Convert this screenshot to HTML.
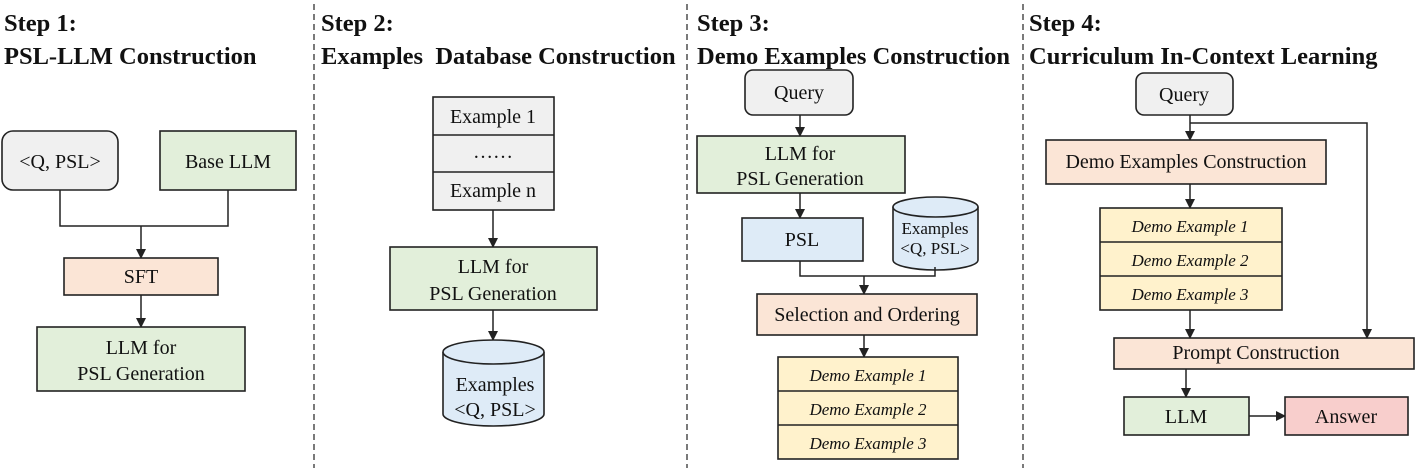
<!DOCTYPE html>
<html><head><meta charset="utf-8"><style>
html,body{margin:0;padding:0;background:#fff;}
svg{display:block;font-family:"Liberation Serif","Times New Roman","DejaVu Serif",serif;}
svg text{font-family:"Liberation Serif","Times New Roman","DejaVu Serif",serif;fill:#111;}
.t{font-size:24.5px;font-weight:bold;}
.n{font-size:20px;text-anchor:middle;}
.i{font-size:17px;font-style:italic;text-anchor:middle;}
.b{stroke:#222;stroke-width:1.6;}
.l{stroke:#222;stroke-width:1.5;fill:none;}
</style></head><body>
<svg width="1419" height="471" viewBox="0 0 1419 471" xmlns="http://www.w3.org/2000/svg" font-family="Liberation Serif, serif">
<defs><marker id="a" markerWidth="10" markerHeight="10" refX="9" refY="5" orient="auto" markerUnits="userSpaceOnUse"><path d="M0,0 L10,5 L0,10 z" fill="#222"/></marker></defs>
<g stroke="#333" stroke-width="1.3" stroke-dasharray="6,4">
<line x1="314" y1="4" x2="314" y2="468"/><line x1="687" y1="4" x2="687" y2="468"/><line x1="1023" y1="4" x2="1023" y2="468"/>
</g>
<text class="t" x="4" y="31">Step 1:</text><text class="t" x="4" y="64">PSL-LLM Construction</text>
<text class="t" x="321" y="31">Step 2:</text><text class="t" x="321" y="64">Examples&#160; Database Construction</text>
<text class="t" x="697" y="31">Step 3:</text><text class="t" x="697" y="64">Demo Examples Construction</text>
<text class="t" x="1029" y="31">Step 4:</text><text class="t" x="1029" y="64">Curriculum In-Context Learning</text>

<rect class="b" x="2" y="131" width="116" height="59" rx="11" fill="#f0f0f0"/>
<text class="n" x="60" y="168">&lt;Q, PSL&gt;</text>
<rect class="b" x="160" y="131" width="136" height="59" fill="#e2efda"/>
<text class="n" x="228" y="168">Base LLM</text>
<path class="l" d="M60,190 V226 H228 V190"/>
<line class="l" x1="141" y1="226" x2="141" y2="258" marker-end="url(#a)"/>
<rect class="b" x="64" y="258" width="154" height="37" fill="#fbe5d6"/>
<text class="n" x="141" y="283">SFT</text>
<line class="l" x1="141" y1="295" x2="141" y2="327" marker-end="url(#a)"/>
<rect class="b" x="37" y="327" width="208" height="64" fill="#e2efda"/>
<text class="n" x="141" y="354">LLM for</text><text class="n" x="141" y="380">PSL Generation</text>

<rect class="b" x="433" y="97" width="121" height="113" fill="#f0f0f0"/>
<line class="b" x1="433" y1="135" x2="554" y2="135"/><line class="b" x1="433" y1="172" x2="554" y2="172"/>
<text class="n" x="493" y="123">Example 1</text>
<text class="n" x="493" y="158">……</text>
<text class="n" x="493" y="197">Example n</text>
<line class="l" x1="493" y1="210" x2="493" y2="247" marker-end="url(#a)"/>
<rect class="b" x="390" y="247" width="207" height="63" fill="#e2efda"/>
<text class="n" x="493" y="273">LLM for</text><text class="n" x="493" y="300">PSL Generation</text>
<line class="l" x1="493" y1="310" x2="493" y2="340" marker-end="url(#a)"/>
<path class="b" d="M443,352 V414 A50.5,12 0 0 0 544,414 V352" fill="#deebf7"/>
<ellipse class="b" cx="493.5" cy="352" rx="50.5" ry="12" fill="#deebf7"/>
<text class="n" x="495" y="391">Examples</text><text class="n" x="495" y="416">&lt;Q, PSL&gt;</text>

<rect class="b" x="745" y="70" width="108" height="45" rx="8" fill="#f0f0f0"/>
<text class="n" x="799" y="99">Query</text>
<line class="l" x1="800" y1="115" x2="800" y2="136" marker-end="url(#a)"/>
<rect class="b" x="697" y="136" width="208" height="57" fill="#e2efda"/>
<text class="n" x="800" y="160">LLM for</text><text class="n" x="800" y="185">PSL Generation</text>
<line class="l" x1="800" y1="193" x2="800" y2="218" marker-end="url(#a)"/>
<rect class="b" x="742" y="218" width="121" height="43" fill="#deebf7"/>
<text class="n" x="802" y="246">PSL</text>
<path class="b" d="M893,207 V260 A42.5,10 0 0 0 978,260 V207" fill="#deebf7"/>
<ellipse class="b" cx="935.5" cy="207" rx="42.5" ry="10" fill="#deebf7"/>
<text x="935" y="234" style="font-size:17px;text-anchor:middle">Examples</text>
<text x="935" y="254" style="font-size:17px;text-anchor:middle">&lt;Q, PSL&gt;</text>
<path class="l" d="M800,261 V276 H935 V267"/>
<line class="l" x1="864" y1="276" x2="864" y2="294" marker-end="url(#a)"/>
<rect class="b" x="757" y="294" width="220" height="41" fill="#fbe5d6"/>
<text class="n" x="867" y="321">Selection and Ordering</text>
<line class="l" x1="864" y1="335" x2="864" y2="357" marker-end="url(#a)"/>
<rect class="b" x="778" y="357" width="180" height="102" fill="#fff2cc"/>
<line class="b" x1="778" y1="391" x2="958" y2="391"/><line class="b" x1="778" y1="425" x2="958" y2="425"/>
<text class="i" x="868" y="381">Demo Example 1</text>
<text class="i" x="868" y="415">Demo Example 2</text>
<text class="i" x="868" y="449">Demo Example 3</text>

<rect class="b" x="1136" y="73" width="97" height="42" rx="8" fill="#f0f0f0"/>
<text class="n" x="1184" y="101">Query</text>
<line class="l" x1="1190" y1="115" x2="1190" y2="140" marker-end="url(#a)"/>
<path class="l" d="M1190,123 H1367 V338" marker-end="url(#a)"/>
<rect class="b" x="1046" y="140" width="280" height="44" fill="#fbe5d6"/>
<text class="n" x="1186" y="168">Demo Examples Construction</text>
<line class="l" x1="1190" y1="184" x2="1190" y2="208" marker-end="url(#a)"/>
<rect class="b" x="1100" y="208" width="182" height="102" fill="#fff2cc"/>
<line class="b" x1="1100" y1="242" x2="1282" y2="242"/><line class="b" x1="1100" y1="276" x2="1282" y2="276"/>
<text class="i" x="1190" y="232">Demo Example 1</text>
<text class="i" x="1190" y="266">Demo Example 2</text>
<text class="i" x="1190" y="300">Demo Example 3</text>
<line class="l" x1="1190" y1="310" x2="1190" y2="338" marker-end="url(#a)"/>
<rect class="b" x="1114" y="338" width="300" height="31" fill="#fbe5d6"/>
<text class="n" x="1256" y="359">Prompt Construction</text>
<line class="l" x1="1186" y1="369" x2="1186" y2="397" marker-end="url(#a)"/>
<rect class="b" x="1124" y="397" width="125" height="38" fill="#e2efda"/>
<text class="n" x="1186" y="423">LLM</text>
<line class="l" x1="1249" y1="416" x2="1285" y2="416" marker-end="url(#a)"/>
<rect class="b" x="1285" y="397" width="123" height="38" fill="#f8cecc"/>
<text class="n" x="1346" y="423">Answer</text>
</svg>
</body></html>
